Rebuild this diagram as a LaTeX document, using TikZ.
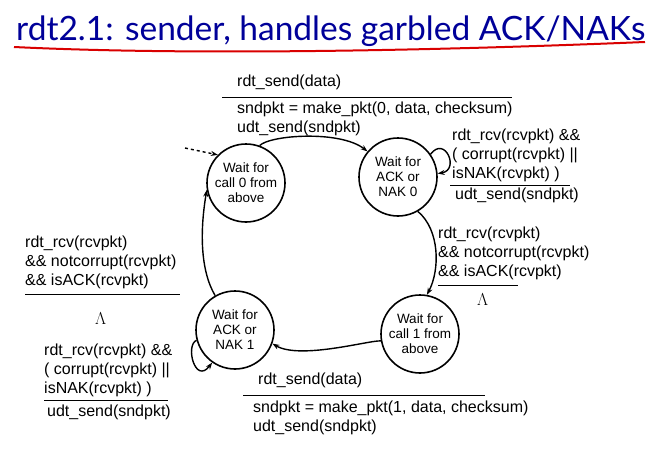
\documentclass[tikz,border=0pt]{standalone}
\usepackage{fontspec}
\setmainfont{Liberation Sans}
\newfontfamily\titlefont{Lato}
\usetikzlibrary{arrows.meta}
\begin{document}
\begin{tikzpicture}[x=1pt,y=-1pt,
  st/.style={circle,draw,line width=1.6pt,minimum size=78pt,inner sep=0pt,align=center,font=\fontsize{13.5}{15}\selectfont},
  lb/.style={anchor=west,inner sep=0pt,font=\fontsize{16}{18}\selectfont},
  tr/.style={-{Stealth[length=7pt,width=5pt]},line width=1.4pt},
  rule/.style={line width=0.9pt}]
\useasboundingbox (0,0) rectangle (667,455);
\node[anchor=base west,inner sep=0pt,text=blue!60!black,font=\titlefont\fontsize{33.5}{35}\selectfont] (title) at (16,40) {rdt2.1: sender, handles garbled ACK/NAKs};
\draw[red!85!black,line width=2pt] (14,47) .. controls (200,56) and (450,50) .. (645,42);
\node[st] (s0) at (246,183) {Wait for\\call 0 from\\above};
\node[st] (s1) at (398,177) {Wait for\\ACK or\\NAK 0};
\node[st] (s2) at (420,334) {Wait for\\call 1 from\\above};
\node[st] (s3) at (235,330) {Wait for\\ACK or\\NAK 1};
\coordinate (init) at (185,148);
\draw[tr,dashed] (init) -- (s0.135);
\draw[tr] (s0.70) .. controls (270,135) and (340,130) .. (s1.140);
\draw[tr] (s1.-60) .. controls (440,230) and (440,270) .. (s2.80);
\draw[tr] (s2.190) .. controls (370,340) and (300,360) .. (s3.-20);
\draw[tr] (s3.120) .. controls (200,270) and (200,230) .. (s0.190);
\draw[tr] (s1.35) .. controls (445,135) and (460,170) .. (s1.5);
\draw[tr] (s3.195) .. controls (185,345) and (195,385) .. (s3.235);
% top
\node[lb] (t1) at (237,82) {rdt\_send(data)};
\draw[rule] (222,97) -- (512,97);
\node[lb] (t2) at (237,109) {sndpkt = make\_pkt(0, data, checksum)};
\node[lb] (t3) at (237,128) {udt\_send(sndpkt)};
% right top
\node[lb] (r1) at (452,136) {rdt\_rcv(rcvpkt) \&\&};
\node[lb] (r2) at (452,155) {( corrupt(rcvpkt) ||};
\node[lb] (r3) at (452,174) {isNAK(rcvpkt) )};
\draw[rule] (450,185) -- (570,185);
\node[lb] (r4) at (455,195) {udt\_send(sndpkt)};
% right mid
\node[lb] (m1) at (438,234) {rdt\_rcv(rcvpkt)};
\node[lb] (m2) at (438,253) {\&\& notcorrupt(rcvpkt)};
\node[lb] (m3) at (438,272) {\&\& isACK(rcvpkt)};
\draw[rule] (438,285) -- (518,285);
\node[lb] (m4) at (477,300) {$\Lambda$};
% left
\node[lb] (l1) at (25,243) {rdt\_rcv(rcvpkt)};
\node[lb] (l2) at (25,262) {\&\& notcorrupt(rcvpkt)};
\node[lb] (l3) at (25,281) {\&\& isACK(rcvpkt)};
\draw[rule] (25,294) -- (180,294);
\node[lb] (l4) at (95,319) {$\Lambda$};
% bottom left
\node[lb] (b1) at (44,351) {rdt\_rcv(rcvpkt) \&\&};
\node[lb] (b2) at (44,370) {( corrupt(rcvpkt) ||};
\node[lb] (b3) at (44,389) {isNAK(rcvpkt) )};
\draw[rule] (44,400) -- (168,400);
\node[lb] (b4) at (47,412) {udt\_send(sndpkt)};
% bottom
\node[lb] (c1) at (258,380) {rdt\_send(data)};
\draw[rule] (243,395) -- (485,395);
\node[lb] (c2) at (253,408) {sndpkt = make\_pkt(1, data, checksum)};
\node[lb] (c3) at (253,427) {udt\_send(sndpkt)};
\end{tikzpicture}
\end{document}
